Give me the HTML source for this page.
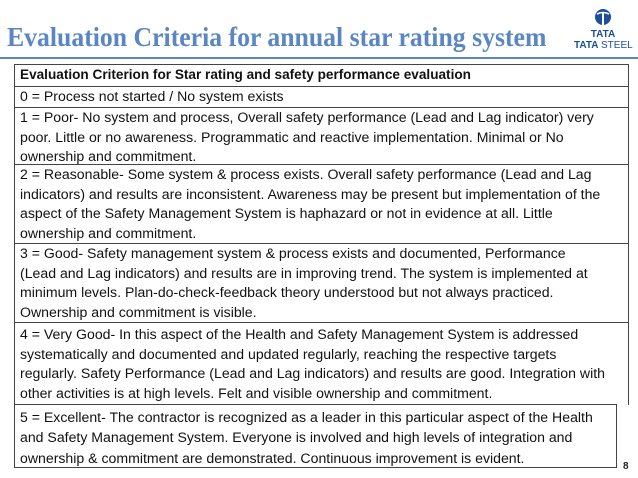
<!DOCTYPE html>
<html><head><meta charset="utf-8"><style>
html,body{margin:0;padding:0;background:#fff;}
body{width:638px;height:478px;position:relative;overflow:hidden;font-family:"Liberation Sans",Arial,sans-serif;}
#title{position:absolute;left:7px;top:22px;font-family:"Liberation Serif",serif;font-weight:bold;font-size:27px;color:#5a86c4;white-space:nowrap;transform:scaleX(0.953);transform-origin:0 0;}
#rule{position:absolute;left:0;top:57px;width:638px;height:2px;background:#5a86c4;}
#tbl{position:absolute;left:14px;top:64px;width:613px;border:1px solid #444;border-bottom:none;}
.row{border-top:1px solid #444;box-sizing:border-box;padding:0 0 0 5px;font-size:14.1px;line-height:19.5px;color:#111;white-space:nowrap;overflow:hidden;}
.row:first-child{border-top:none;}
.hdr{font-weight:bold;font-size:13.6px;}
#last{position:absolute;left:14px;top:404px;width:603px;height:64px;border:1px solid #444;box-sizing:border-box;}
#pg{position:absolute;left:623px;top:461px;font-size:10px;font-weight:bold;color:#222;}
#logo{position:absolute;left:572px;top:8px;width:62px;height:42px;text-align:center;}
</style></head><body>
<div id="title">Evaluation Criteria for annual star rating system</div>
<div id="logo">
<svg width="62" height="42" viewBox="0 0 62 42">
<circle cx="31" cy="9" r="8" fill="#1b4f9c"/>
<path d="M25 6 Q31 3 37 6" stroke="#fff" stroke-width="1.6" fill="none"/>
<rect x="30" y="5" width="2" height="12" fill="#fff"/>
<text x="31" y="29" text-anchor="middle" font-family="Liberation Sans, sans-serif" font-weight="bold" font-size="10" fill="#1b4f9c">TATA</text>
<text x="2" y="40" font-family="Liberation Sans, sans-serif" font-weight="bold" font-size="10" fill="#1b4f9c">TATA</text>
<text x="29" y="40" font-family="Liberation Sans, sans-serif" font-size="10" fill="#1b4f9c">STEEL</text>
</svg></div>
<div id="rule"></div>
<div id="tbl">
<div class="row hdr" style="height:21px;line-height:20px">Evaluation Criterion for Star rating and safety performance evaluation</div>
<div class="row" style="height:21px;line-height:19px">0 = Process not started / No system exists</div>
<div class="row" style="height:57px">1 = Poor- No system and process, Overall safety performance (Lead and Lag indicator) very<br>poor. Little or no awareness. Programmatic and reactive implementation. Minimal or No<br>ownership and commitment.</div>
<div class="row" style="height:79px">2 = Reasonable- Some system &amp; process exists. Overall safety performance (Lead and Lag<br>indicators) and results are inconsistent. Awareness may be present but implementation of the<br>aspect of the Safety Management System is haphazard or not in evidence at all. Little<br>ownership and commitment.</div>
<div class="row" style="height:79px">3 = Good- Safety management system &amp; process exists and documented, Performance<br>(Lead and Lag indicators) and results are in improving trend. The system is implemented at<br>minimum levels. Plan-do-check-feedback theory understood but not always practiced.<br>Ownership and commitment is visible.</div>
<div class="row" style="height:83px;padding-top:2px">4 = Very Good- In this aspect of the Health and Safety Management System is addressed<br>systematically and documented and updated regularly, reaching the respective targets<br>regularly. Safety Performance (Lead and Lag indicators) and results are good. Integration with<br>other activities is at high levels. Felt and visible ownership and commitment.</div>
</div>
<div id="last"><div class="row" style="border:none;padding-top:2px;line-height:20.4px">5 = Excellent- The contractor is recognized as a leader in this particular aspect of the Health<br>and Safety Management System. Everyone is involved and high levels of integration and<br>ownership &amp; commitment are demonstrated. Continuous improvement is evident.</div></div>
<div id="pg">8</div>
</body></html>
